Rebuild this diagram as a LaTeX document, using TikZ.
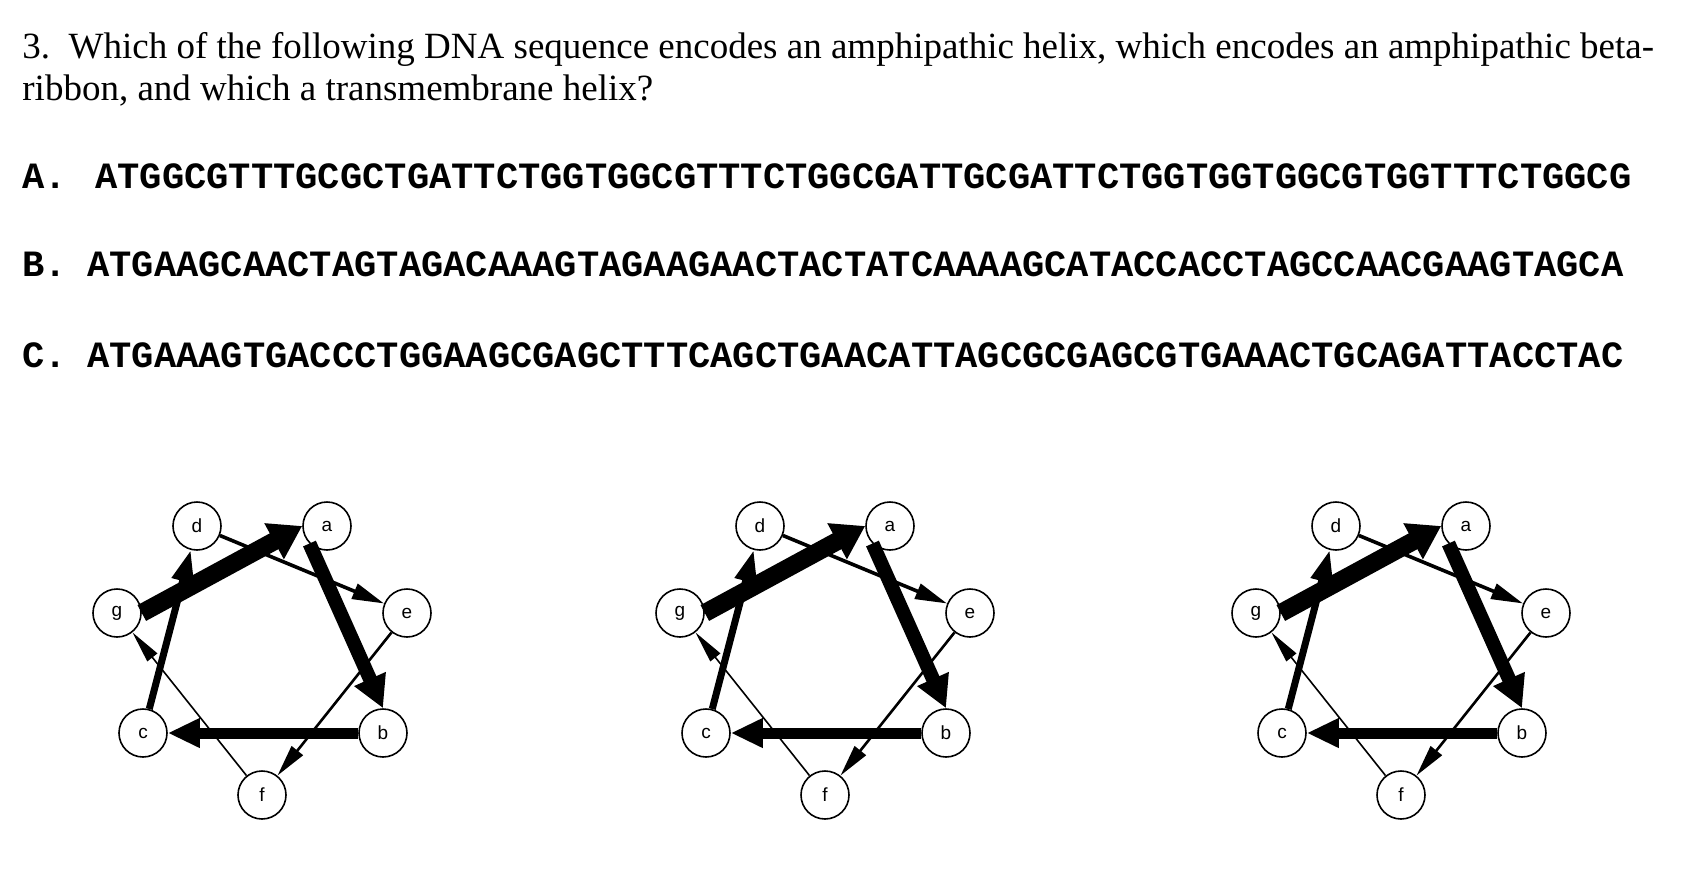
\documentclass[tikz,border=0pt]{standalone}
\usepackage{fontspec}
\setmainfont{Liberation Serif}
\newfontfamily\mono{Liberation Mono}
\newfontfamily\lsans{Liberation Sans}
\usetikzlibrary{arrows.meta}
\tikzset{
 res/.style={circle,draw,line width=0.8pt,minimum size=24pt,inner sep=0pt,font=\lsans\fontsize{9.5}{9.5}\selectfont},
 txt/.style={anchor=base west,inner sep=0pt,font=\fontsize{18.5}{20}\selectfont},
 seq/.style={anchor=base west,inner sep=0pt,font=\mono\bfseries\fontsize{18.55}{20}\selectfont},
 arr/.style={-{Triangle[length=16pt,width=#1*1.6pt+5pt]},line width=#1pt},
}
\newcommand{\wheel}[2]{%
\begin{scope}[shift={(#1,0)}]
\node[res] (d#2) at (197,526) {d};
\node[res] (a#2) at (327,526) {a};
\node[res] (g#2) at (117,613) {g};
\node[res] (e#2) at (407,613) {e};
\node[res] (c#2) at (143,733) {c};
\node[res] (b#2) at (383,733) {b};
\node[res] (f#2) at (262,795) {f};
\draw[arr=0.8] (f#2) -- (g#2);
\draw[arr=1.3] (e#2) -- (f#2);
\draw[arr=1.8] (d#2) -- (e#2);
\draw[arr=3.5] (c#2) -- (d#2);
\draw[arr=5.5] (b#2) -- (c#2);
\draw[arr=7] (a#2.south west) -- (b#2.north);
\draw[arr=9] (g#2.east) -- (a#2.west);
\end{scope}}
\begin{document}
\begin{tikzpicture}[x=0.5pt,y=-0.5pt]
\useasboundingbox (0,0) rectangle (1698,868);
\node[txt] (t1) at (22,58) {3.\ \ Which of the following DNA sequence encodes an amphipathic helix, which encodes an amphipathic beta-};
\node[txt] (t2) at (22,100) {ribbon, and which a transmembrane helix?};
\node[seq] (la) at (22,188) {A.};
\node[seq] (sa) at (95,188) {ATGGCGTTTGCGCTGATTCTGGTGGCGTTTCTGGCGATTGCGATTCTGGTGGTGGCGTGGTTTCTGGCG};
\node[seq] (lb) at (22,276) {B.};
\node[seq] (sb) at (87,276) {ATGAAGCAACTAGTAGACAAAGTAGAAGAACTACTATCAAAAGCATACCACCTAGCCAACGAAGTAGCA};
\node[seq] (lc) at (22,367) {C.};
\node[seq] (sc) at (87,367) {ATGAAAGTGACCCTGGAAGCGAGCTTTCAGCTGAACATTAGCGCGAGCGTGAAACTGCAGATTACCTAC};
\wheel{0}{1}
\wheel{563}{2}
\wheel{1139}{3}
\end{tikzpicture}
\end{document}
